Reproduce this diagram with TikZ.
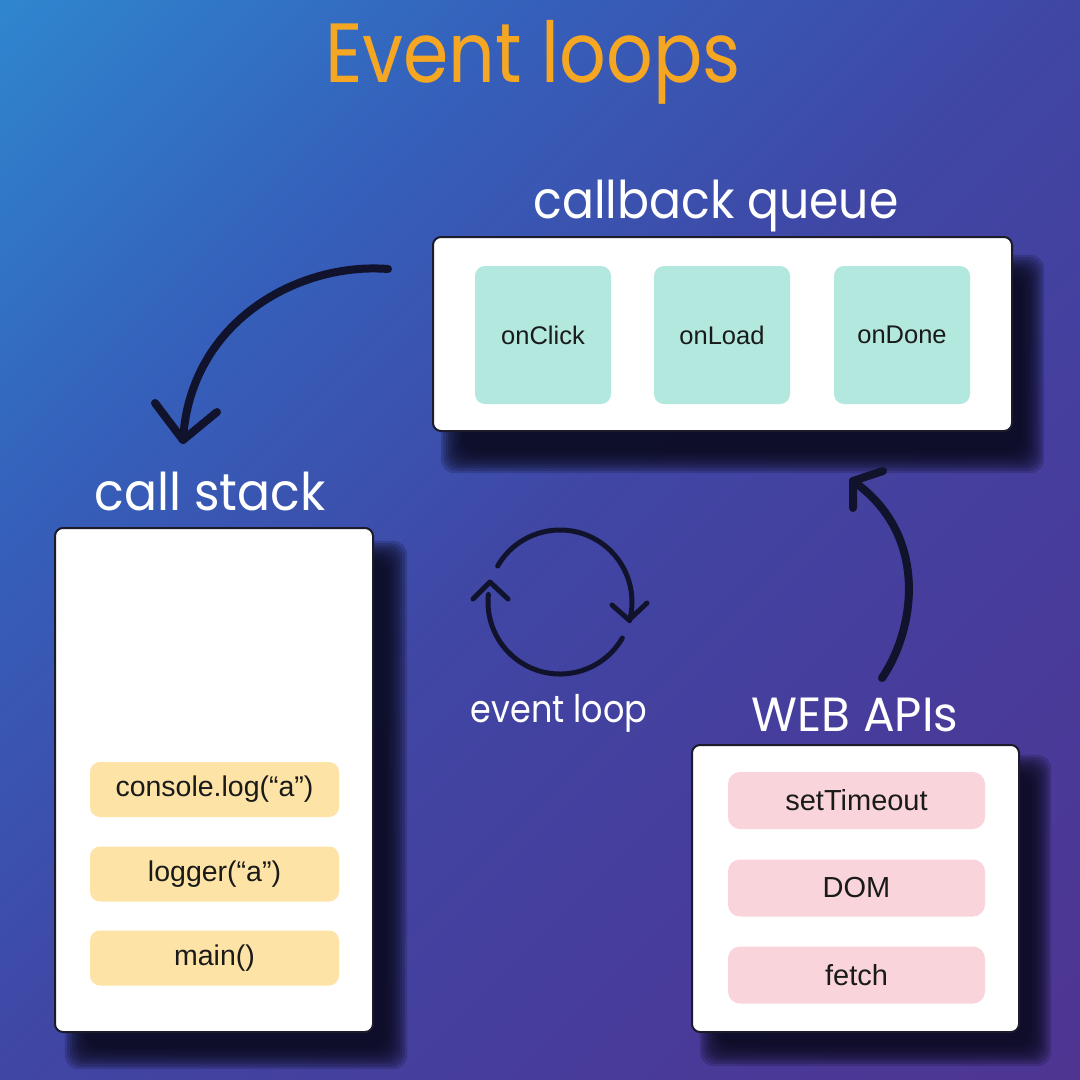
\documentclass[tikz,border=0pt]{standalone}
\usepackage{fontspec}
\setmainfont{Liberation Sans}
\newfontfamily\headfont{Poppins}
\usetikzlibrary{calc}
\definecolor{bgA}{HTML}{2F85CE}
\definecolor{bgB}{HTML}{355FBA}
\definecolor{bgC}{HTML}{4046A4}
\definecolor{bgD}{HTML}{473C9B}
\definecolor{bgE}{HTML}{4E3592}
\definecolor{titleorange}{HTML}{F5A623}
\definecolor{panelline}{HTML}{1B1B2B}
\definecolor{shadowc}{HTML}{0A0A1E}
\definecolor{tealbox}{HTML}{B3E8DF}
\definecolor{yellowbox}{HTML}{FDE3A6}
\definecolor{pinkbox}{HTML}{F9D5DB}
\definecolor{inktext}{HTML}{1A1A1A}
\definecolor{arrowc}{HTML}{10132B}
\pgfdeclareverticalshading{bgsh}{100bp}{color(0bp)=(bgE); color(15bp)=(bgE); color(32.5bp)=(bgD); color(50bp)=(bgC); color(67.5bp)=(bgB); color(85bp)=(bgA); color(100bp)=(bgA)}
\newcommand{\softshadow}[3]{%
  \foreach \k in {0,...,9}{%
    \pgfmathsetmacro\ins{-12+2.4*\k}%
    \fill[shadowc, fill opacity=0.2, rounded corners=14pt]
      ($(#1.north west)+(#2+\ins,#3+\ins)$) rectangle ($(#1.south east)+(#2-\ins,#3-\ins)$);
  }}
\tikzset{
  panel/.style={draw=panelline, line width=2pt, fill=white, rounded corners=8pt, inner sep=0pt},
  itembox/.style={fill=#1, rounded corners=10pt, inner sep=0pt, text=inktext},
  heading/.style={text=white, inner sep=0pt, anchor=base},
  bigarrow/.style={draw=arrowc, line width=8pt, line cap=round, line join=round},
  looparrow/.style={draw=arrowc, line width=5pt, line cap=round, line join=round},
}
\begin{document}
\begin{tikzpicture}[x=1pt, y=-1pt]
\useasboundingbox (0,0) rectangle (1080,1080);
\shade[shading=bgsh, shading angle=45] (0,0) rectangle (1080,1080);

% title
\node[heading, text=titleorange, font=\headfont\fontsize{84}{90}\selectfont] (title) at (533,82) {\scalebox{0.87}[1]{Event loops}};

% callback queue
\node[heading, font=\headfont\fontsize{52}{60}\selectfont] (cbqlabel) at (716,218) {\scalebox{0.91}[1]{callback queue}};
\path node[minimum width=579pt, minimum height=194pt, inner sep=0pt] (queue) at (722.5,334) {};
\softshadow{queue}{20}{30}
\node[panel, minimum width=579pt, minimum height=194pt] (queuebox) at (722.5,334) {};
\tikzset{tealitem/.style={itembox=tealbox, minimum width=136pt, minimum height=138pt, font=\fontsize{25.5}{30}\selectfont}}
\node[tealitem] (onclick) at (543,335) {onClick};
\node[tealitem] (onload) at (722,335) {onLoad};
\node[tealitem] (ondone) at (902,335) {onDone};

% call stack
\node[heading, font=\headfont\fontsize{52}{60}\selectfont] (cslabel) at (210,510) {\scalebox{0.94}[1]{call stack}};
\path node[minimum width=318pt, minimum height=504pt, inner sep=0pt] (stack) at (214,780) {};
\softshadow{stack}{22}{25}
\node[panel, minimum width=318pt, minimum height=504pt] (stackbox) at (214,780) {};
\tikzset{yellowitem/.style={itembox=yellowbox, minimum width=249pt, minimum height=55pt, font=\fontsize{28.5}{32}\selectfont}}
\node[yellowitem] (consolelog) at (214.5,789.5) {console.log(“a”)};
\node[yellowitem] (logger) at (214.5,874) {logger(“a”)};
\node[yellowitem] (mainfn) at (214.5,958) {main()};

% web apis
\node[heading, font=\headfont\fontsize{48}{56}\selectfont] (weblabel) at (855,731) {\scalebox{0.98}[1]{WEB APIs}};
\path node[minimum width=327pt, minimum height=287pt, inner sep=0pt] (web) at (855.5,888.5) {};
\softshadow{web}{20}{22}
\node[panel, minimum width=327pt, minimum height=287pt] (webbox) at (855.5,888.5) {};
\tikzset{pinkitem/.style={itembox=pinkbox, minimum width=257pt, minimum height=57pt, rounded corners=12pt, font=\fontsize{29}{32}\selectfont}}
\node[pinkitem] (settimeout) at (856.5,800.5) {setTimeout};
\node[pinkitem] (dom) at (856.5,888) {DOM};
\node[pinkitem] (fetch) at (856.5,975) {fetch};

% event loop
\node[heading, font=\headfont\fontsize{38}{46}\selectfont] (ellabel) at (559,722) {\scalebox{0.88}[1]{event loop}};
\coordinate (loopc) at (560,602);
\draw[looparrow] (loopc) ++(-150:72) arc[start angle=-150, end angle=15, radius=72];
\draw[looparrow] (loopc) ++(30:72) arc[start angle=30, end angle=186, radius=72];
\coordinate (chevR) at (629,620);
\coordinate (chevL) at (490,582);
\draw[looparrow] ($(chevR)+(-17,-15)$) -- (chevR) -- ($(chevR)+(18,-17)$);
\draw[looparrow] ($(chevL)+(-17,17)$) -- (chevL) -- ($(chevL)+(18,17)$);

% queue -> stack arrow
\coordinate (a1s) at (388,269);
\coordinate (a1e) at (183,440);
\draw[bigarrow] (a1s) .. controls (300,262) and (190,320) .. (a1e);
\draw[bigarrow] ($(a1e)+(-28,-37)$) -- (a1e) -- ($(a1e)+(34,-28)$);

% web -> queue arrow
\coordinate (a2s) at (882,678);
\coordinate (a2e) at (853,481);
\draw[bigarrow] (a2s) .. controls (915,630) and (930,535) .. (a2e);
\draw[bigarrow] ($(a2e)+(30,-10)$) -- (a2e) -- ($(a2e)+(0,27)$);
\end{tikzpicture}
\end{document}
